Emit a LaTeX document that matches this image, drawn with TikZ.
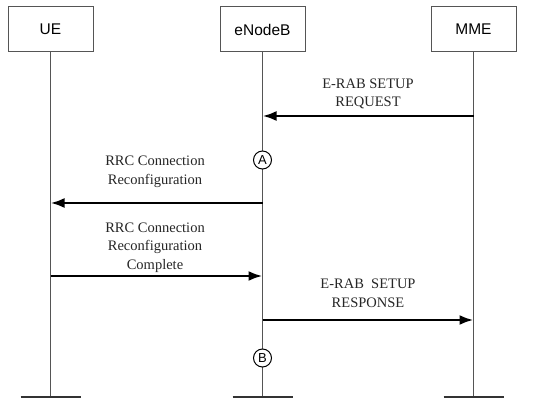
\documentclass[tikz,border=0pt]{standalone}
\usepackage{fontspec}
\setmainfont{Liberation Serif}
\newfontfamily\arialf{Liberation Sans}
\usetikzlibrary{arrows.meta}
\definecolor{lgray}{RGB}{85,85,85}
\tikzset{
  entity/.style={draw=lgray, line width=1pt, minimum width=85pt, minimum height=45pt, inner sep=0pt, font=\arialf\fontsize{15.5}{18}\selectfont},
  life/.style={draw=lgray, line width=1.7pt},
  foot/.style={draw=black!80, line width=2pt},
  msg/.style={draw=black, line width=2.6pt, -{Latex[length=14pt,width=10pt]}},
  lbl/.style={align=center, font=\fontsize{14.5}{18.7}\selectfont, inner sep=0pt, text=black!85},
  stepmark/.style={circle, draw=black, line width=1pt, fill=white, minimum size=18pt, inner sep=0pt, font=\arialf\fontsize{13}{13}\selectfont}
}
\begin{document}
\begin{tikzpicture}[x=1pt,y=-1pt]
\useasboundingbox (0,0) rectangle (536,411);
\node[entity] (ue) at (50.5,29.5) {UE};
\node[entity] (enb) at (262.5,29.5) {eNodeB};
\node[entity] (mme) at (473.5,29.5) {MME};
\coordinate (ueb) at (50.5,397);
\coordinate (enbb) at (262.5,397);
\coordinate (mmeb) at (473.5,397);
\draw[life] (ue.south) -- (ueb);
\draw[life] (enb.south) -- (enbb);
\draw[life] (mme.south) -- (mmeb);
\draw[foot] ([xshift=-30pt]ueb) -- ([xshift=30pt]ueb);
\draw[foot] ([xshift=-30pt]enbb) -- ([xshift=30pt]enbb);
\draw[foot] ([xshift=-30pt]mmeb) -- ([xshift=30pt]mmeb);
% messages
\coordinate (m1s) at (473.5,116);
\coordinate (m1e) at (262.5,116);
\draw[msg] (m1s) -- (m1e);
\node[lbl] (t1) at (368,94) {E-RAB SETUP\\REQUEST};
\node[stepmark] (a) at (262.5,160) {A};
\coordinate (m2s) at (262.5,203);
\coordinate (m2e) at (50.5,203);
\draw[msg] (m2s) -- (m2e);
\node[lbl] (t2) at (155,172) {RRC Connection\\Reconfiguration};
\coordinate (m3s) at (50.5,276);
\coordinate (m3e) at (262.5,276);
\draw[msg] (m3s) -- (m3e);
\node[lbl] (t3) at (155,247.5) {RRC Connection\\Reconfiguration\\Complete};
\coordinate (m4s) at (262.5,320);
\coordinate (m4e) at (473.5,320);
\draw[msg] (m4s) -- (m4e);
\node[lbl] (t4) at (368,293) {E-RAB\ \ SETUP\\RESPONSE};
\node[stepmark] (b) at (262.5,358) {B};
\end{tikzpicture}
\end{document}
